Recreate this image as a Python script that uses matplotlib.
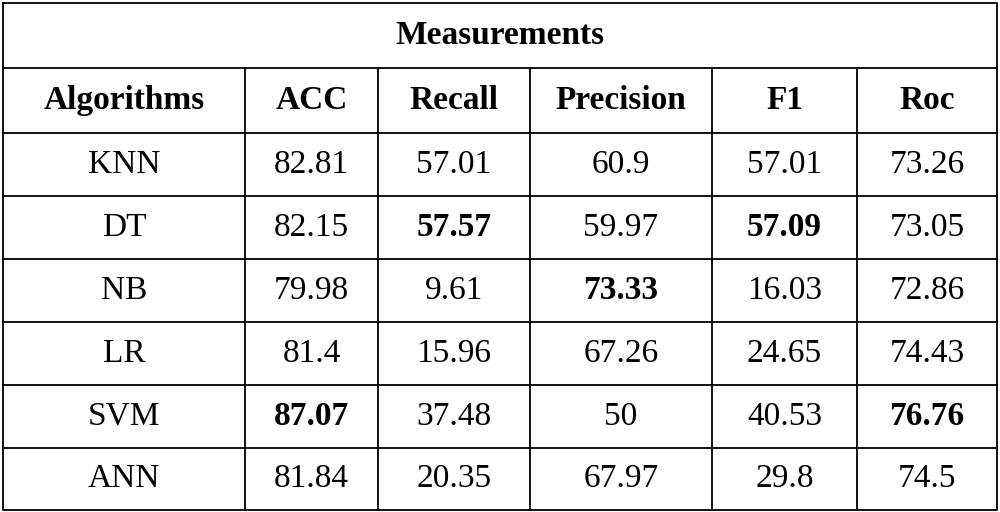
import matplotlib.pyplot as plt

algorithms = ['KNN', 'DT', 'NB', 'LR', 'SVM', 'ANN']
metrics = ['ACC', 'Recall', 'Precision', 'F1', 'Roc']
acc = ['82.81', '82.15', '79.98', '81.4', '87.07', '81.84']
recall = ['57.01', '57.57', '9.61', '15.96', '37.48', '20.35']
precision = ['60.9', '59.97', '73.33', '67.26', '50', '67.97']
f1 = ['57.01', '57.09', '16.03', '24.65', '40.53', '29.8']
roc = ['73.26', '73.05', '72.86', '74.43', '76.76', '74.5']
columns = [acc, recall, precision, f1, roc]

W, H = 1000, 512
fig = plt.figure(figsize=(W / 100, H / 100), dpi=100)
ax = fig.add_axes([0, 0, 1, 1])
ax.set_xlim(0, W)
ax.set_ylim(H, 0)
ax.axis('off')

xs = [3, 245, 378, 530, 712, 857, 997]
ys = [3, 68, 133, 196, 259, 322, 385, 448, 510]
font = 'Liberation Serif'
lw = 1.3

# outer frame and lines
ax.plot([xs[0], xs[-1], xs[-1], xs[0], xs[0]], [ys[0], ys[0], ys[-1], ys[-1], ys[0]], color='black', lw=lw)
for y in ys[1:-1]:
    ax.plot([xs[0], xs[-1]], [y, y], color='black', lw=lw)
for x in xs[1:-1]:
    ax.plot([x, x], [ys[1], ys[-1]], color='black', lw=lw)

ax.text((xs[0] + xs[-1]) / 2, (ys[0] + ys[1]) / 2, 'Measurements', ha='center', va='center',
        fontsize=24, fontweight='bold', family=font)

headers = ['Algorithms'] + metrics
for i, h in enumerate(headers):
    ax.text((xs[i] + xs[i + 1]) / 2, (ys[1] + ys[2]) / 2, h, ha='center', va='center',
            fontsize=24, fontweight='bold', family=font)

for r, name in enumerate(algorithms):
    yc = (ys[r + 2] + ys[r + 3]) / 2
    ax.text((xs[0] + xs[1]) / 2, yc, name, ha='center', va='center', fontsize=24, family=font)
    for c, col in enumerate(columns):
        best = max(float(v) for v in col)
        bold = float(col[r]) == best
        ax.text((xs[c + 1] + xs[c + 2]) / 2, yc, col[r], ha='center', va='center', fontsize=24,
                family=font, fontweight='bold' if bold else 'normal')

fig.savefig('out.png', dpi=100)
